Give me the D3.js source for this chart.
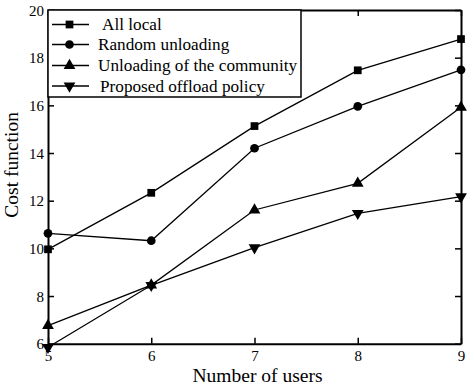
<!DOCTYPE html>
<html>
<head>
<meta charset="utf-8">
<script src="https://cdn.jsdelivr.net/npm/d3@7"></script>
<style>
  body { margin: 0; background: #fff; }
  svg { display: block; font-family: "Liberation Serif", "Times New Roman", serif; }
  svg text { font-family: "Liberation Serif", "Times New Roman", serif; }
</style>
</head>
<body>
<svg id="chart" width="474" height="391"></svg>
<script>
// data
const users = [5, 6, 7, 8, 9];
const allLocal = [9.96, 12.33, 15.13, 17.47, 18.78];
const randomUnloading = [10.63, 10.32, 14.2, 15.96, 17.49];
const communityUnloading = [6.76, 8.46, 11.61, 12.73, 15.92];
const proposedPolicy = [5.85, 8.45, 10.03, 11.47, 12.17];
const seriesNames = ["All local", "Random unloading", "Unloading of the community", "Proposed offload policy"];
const yTicks = [6, 8, 10, 12, 14, 16, 18, 20];

const series = [
  { name: seriesNames[0], values: allLocal, symbol: d3.symbolSquare, rot: 0 },
  { name: seriesNames[1], values: randomUnloading, symbol: d3.symbolCircle, rot: 0 },
  { name: seriesNames[2], values: communityUnloading, symbol: d3.symbolTriangle, rot: 0 },
  { name: seriesNames[3], values: proposedPolicy, symbol: d3.symbolTriangle, rot: 180 }
];

const svg = d3.select("#chart");
const mLeft = 48, mRight = 461, mTop = 10, mBottom = 343.7;

const x = d3.scaleLinear().domain([5, 9]).range([mLeft, mRight]);
const y = d3.scaleLinear().domain([6, 20]).range([mBottom, mTop]);

// axes, ticks pointing inward
const xAxis = svg.append("g").attr("transform", `translate(0,${mBottom})`)
  .call(d3.axisBottom(x).tickValues(users).tickFormat(d3.format("d")).tickSizeInner(-6).tickSizeOuter(0).tickPadding(7));
const yAxis = svg.append("g").attr("transform", `translate(${mLeft},0)`)
  .call(d3.axisLeft(y).tickValues(yTicks).tickFormat(d3.format("d")).tickSizeInner(-6).tickSizeOuter(0).tickPadding(4));
const topAxis = svg.append("g").attr("transform", `translate(0,${mTop})`)
  .call(d3.axisTop(x).tickValues(users).tickFormat("").tickSizeInner(-6).tickSizeOuter(0));
const rightAxis = svg.append("g").attr("transform", `translate(${mRight},0)`)
  .call(d3.axisRight(y).tickValues(yTicks).tickFormat("").tickSizeInner(-6).tickSizeOuter(0));

[xAxis, yAxis, topAxis, rightAxis].forEach(a => {
  a.attr("font-family", null).attr("font-size", null);
  a.select(".domain").attr("stroke", "#000").attr("stroke-width", 2);
  a.selectAll(".tick line").attr("stroke", "#000").attr("stroke-width", 1.5);
  a.selectAll(".tick text").attr("fill", "#000").style("font-size", "15px");
});
yAxis.selectAll(".tick text").attr("dy", "0.34em");

// lines + markers
const line = d3.line().x((d, i) => x(users[i])).y(d => y(d));
series.forEach(s => {
  svg.append("path").datum(s.values)
    .attr("fill", "none").attr("stroke", "#000").attr("stroke-width", 1.3)
    .attr("d", line);
  svg.append("g").selectAll("path").data(s.values).join("path")
    .attr("d", d3.symbol(s.symbol, 60))
    .attr("transform", (d, i) => `translate(${x(users[i])},${y(d)}) rotate(${s.rot})`)
    .attr("fill", "#000");
});

// legend
const legend = svg.append("g");
legend.append("rect")
  .attr("x", mLeft).attr("y", mTop).attr("width", 253).attr("height", 87)
  .attr("fill", "#fff").attr("stroke", "#000").attr("stroke-width", 1.5);
const rowY = [24.5, 44.5, 65.5, 86];
const textX = [102, 98, 98, 100];
series.forEach((s, i) => {
  legend.append("line")
    .attr("x1", 52).attr("x2", 89).attr("y1", rowY[i]).attr("y2", rowY[i])
    .attr("stroke", "#000").attr("stroke-width", 1.3);
  legend.append("path")
    .attr("d", d3.symbol(s.symbol, 60))
    .attr("transform", `translate(69.5,${rowY[i]}) rotate(${s.rot})`)
    .attr("fill", "#000");
  legend.append("text")
    .attr("x", textX[i]).attr("y", rowY[i]).attr("dy", "0.32em")
    .style("font-size", "17.2px").text(s.name);
});

// axis titles
svg.append("text")
  .attr("x", (mLeft + mRight) / 2 + 3).attr("y", 382)
  .attr("text-anchor", "middle").style("font-size", "19.5px")
  .text("Number of users");
svg.append("text")
  .attr("transform", `translate(18,${(mTop + mBottom) / 2 - 12}) rotate(-90)`)
  .attr("text-anchor", "middle").style("font-size", "19.5px")
  .text("Cost function");
</script>
</body>
</html>
